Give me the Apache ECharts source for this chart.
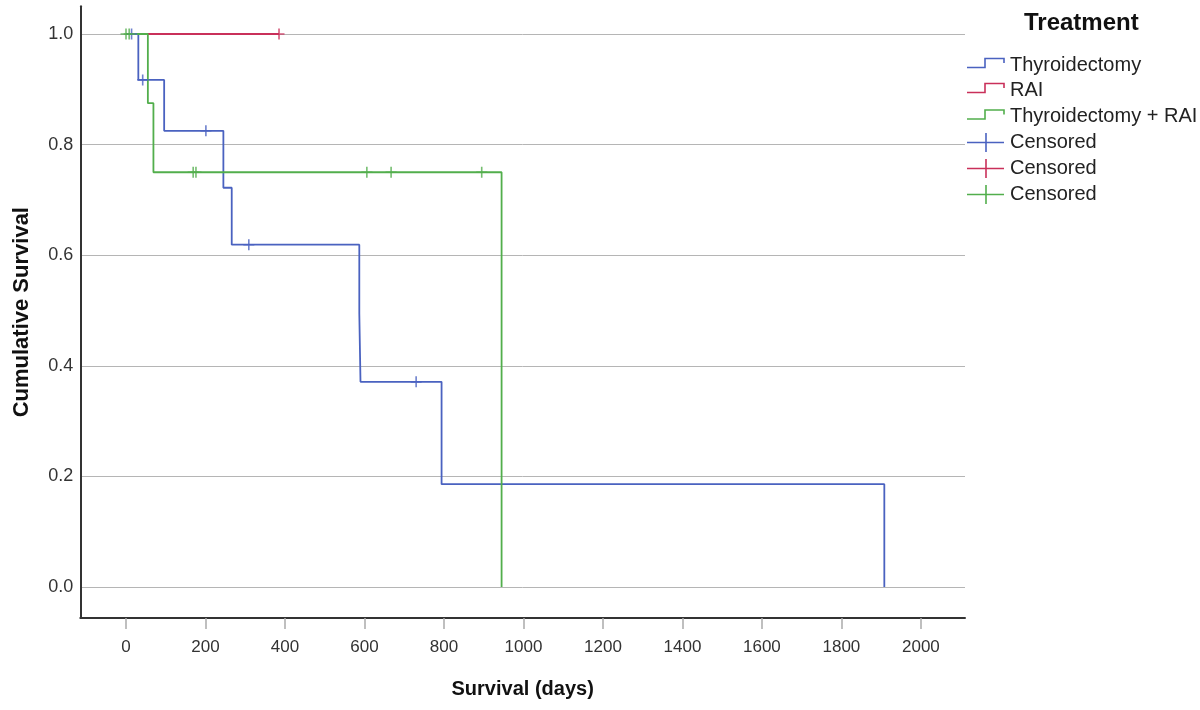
<!DOCTYPE html>
<html>
<head>
<meta charset="utf-8">
<script src="https://cdn.jsdelivr.net/npm/echarts@6/dist/echarts.min.js"></script>
<style>
html,body{margin:0;padding:0;background:#fff;}
#chart{width:1200px;height:710px;}
</style>
</head>
<body>
<div id="chart"></div>
<script>
// ---- data ----
const groupNames = ['Thyroidectomy', 'RAI', 'Thyroidectomy + RAI'];
const censoredLabel = 'Censored';
const legendTitle = 'Treatment';
const xTitle = 'Survival (days)';
const yTitle = 'Cumulative Survival';

// Kaplan-Meier steps: event times and survival after each step
const thyTimes = [0, 31, 96, 245, 266, 587, 590, 794, 1908];
const thySurv  = [1, 0.917, 0.825, 0.722, 0.619, 0.495, 0.371, 0.186, 0];
const raiTimes = [0, 385];
const raiSurv  = [1, 1];
const comboTimes = [0, 55, 69, 945];
const comboSurv  = [1, 0.875, 0.75, 0];

// censored observations
const thyCensTimes = [14, 42, 201, 309, 730];
const thyCensSurv  = [1, 0.917, 0.825, 0.619, 0.371];
const raiCensTimes = [385];
const raiCensSurv  = [1];
const comboCensTimes = [0, 8, 169, 176, 606, 667, 895];
const comboCensSurv  = [1, 1, 0.75, 0.75, 0.75, 0.75, 0.75];

// tick labels
const xTicks = [0, 200, 400, 600, 800, 1000, 1200, 1400, 1600, 1800, 2000];
const yTicks = [0, 0.2, 0.4, 0.6, 0.8, 1.0];

// ---- styling ----
const colors = ['#4a62c0', '#c9305a', '#52ae4c'];
const zip = (a, b) => a.map((v, i) => [v, b[i]]);

const lineTimes = [thyTimes, raiTimes, comboTimes];
const lineSurv = [thySurv, raiSurv, comboSurv];
const censTimes = [thyCensTimes, raiCensTimes, comboCensTimes];
const censSurv = [thyCensSurv, raiCensSurv, comboCensSurv];

const plusPath = 'path://M5,0L5,10M0,5L10,5';

const series = [];
groupNames.forEach((name, i) => {
  series.push({
    name: name,
    type: 'line',
    step: 'end',
    data: zip(lineTimes[i], lineSurv[i]),
    showSymbol: false,
    symbol: 'none',
    lineStyle: { color: colors[i], width: 1.8 },
    z: 2 + i,
    animation: false,
    silent: true
  });
});
groupNames.forEach((name, i) => {
  series.push({
    name: censoredLabel + ' ' + i,
    type: 'scatter',
    data: zip(censTimes[i], censSurv[i]),
    symbol: plusPath,
    symbolSize: 11,
    itemStyle: { color: 'none', borderColor: colors[i], borderWidth: 1.6 },
    z: 6,
    animation: false,
    silent: true
  });
});

// ---- legend drawn as graphics ----
const lgX = 967, lgTextX = 1010;
const rowY = [65, 90, 116.5, 142.5, 168.5, 194.5];
const graphics = [];
graphics.push({
  type: 'text', left: 1084 - 60, top: 11,
  style: { text: legendTitle, font: 'bold 24px "Liberation Sans", Arial, sans-serif', fill: '#111' }
});
groupNames.forEach((name, i) => {
  const c = rowY[i];
  graphics.push({
    type: 'polyline',
    shape: { points: [[lgX, c + 2.5], [985, c + 2.5], [985, c - 6.5], [1004, c - 6.5], [1004, c - 2]] },
    style: { stroke: colors[i], lineWidth: 1.6, fill: null }
  });
  graphics.push({
    type: 'text', x: lgTextX, y: c,
    style: { text: name, font: '20px "Liberation Sans", Arial, sans-serif', fill: '#222', verticalAlign: 'middle' }
  });
});
groupNames.forEach((name, i) => {
  const c = rowY[3 + i];
  graphics.push({
    type: 'line', shape: { x1: lgX, y1: c, x2: 1004, y2: c },
    style: { stroke: colors[i], lineWidth: 1.6 }
  });
  graphics.push({
    type: 'line', shape: { x1: 986, y1: c - 9.5, x2: 986, y2: c + 9.5 },
    style: { stroke: colors[i], lineWidth: 1.6 }
  });
  graphics.push({
    type: 'text', x: lgTextX, y: c,
    style: { text: censoredLabel, font: '20px "Liberation Sans", Arial, sans-serif', fill: '#222', verticalAlign: 'middle' }
  });
});

const chart = echarts.init(document.getElementById('chart'), null, { renderer: 'canvas' });
chart.setOption({
  backgroundColor: '#fff',
  animation: false,
  textStyle: { fontFamily: '"Liberation Sans", Arial, sans-serif' },
  grid: { left: 80.3, top: 6.35, width: 884.7, height: 611.65, containLabel: false },
  xAxis: {
    type: 'value',
    min: -115, max: 2111,
    name: xTitle,
    nameLocation: 'middle',
    nameGap: 61,
    nameTextStyle: { fontSize: 20, fontWeight: 'bold', color: '#111' },
    axisLine: { show: true, onZero: false, lineStyle: { color: '#333', width: 2 } },
    axisTick: { show: true, length: 11, lineStyle: { color: '#aaa', width: 1.5 }, customValues: xTicks },
    axisLabel: { customValues: xTicks, fontSize: 17, color: '#333', margin: 21, formatter: v => String(v) },
    splitLine: { show: false }
  },
  yAxis: {
    type: 'value',
    min: -0.056, max: 1.05,
    name: yTitle,
    nameLocation: 'middle',
    nameGap: 47,
    nameTextStyle: { fontSize: 22, fontWeight: 'bold', color: '#111' },
    axisLine: { show: true, onZero: false, lineStyle: { color: '#333', width: 2 } },
    axisTick: { show: false, customValues: yTicks },
    axisLabel: { customValues: yTicks, fontSize: 18, color: '#333', margin: 7, formatter: v => v.toFixed(1) },
    splitLine: { show: true, lineStyle: { color: '#b5b5b5', width: 1 } }
  },
  series: series,
  graphic: graphics
});
</script>
</body>
</html>
